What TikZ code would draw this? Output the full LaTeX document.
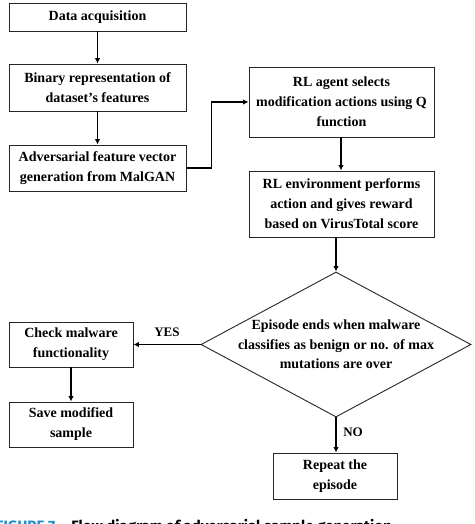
\documentclass[tikz,border=0pt]{standalone}
\usepackage{fontspec}
\setmainfont{Liberation Serif}
\newfontfamily\capfont{Fira Sans}
\usetikzlibrary{shapes.geometric,arrows.meta}
\definecolor{capblue}{RGB}{30,140,205}
\begin{document}
\begin{tikzpicture}[x=1pt,y=-1pt,
  box/.style={draw=black!85,line width=0.9pt,inner sep=0pt,align=center,
    font=\fontsize{14}{20}\selectfont\bfseries},
  conn/.style={line width=1.3pt,-{Latex[length=5.5pt,width=5.5pt]}},
  lbl/.style={font=\fontsize{13}{16}\selectfont\bfseries,inner sep=0pt}]
\useasboundingbox (0,0) rectangle (474,524);
\fill[white] (0,0) rectangle (474,524);
\node[box,minimum width=177pt,minimum height=28pt] (d1) at (97.5,17) {Data acquisition};
\node[box,minimum width=177pt,minimum height=47pt] (d2) at (97.5,87.5) {Binary representation of\\dataset’s features};
\node[box,minimum width=177pt,minimum height=46pt] (d3) at (97.5,168) {Adversarial feature vector\\generation from MalGAN};
\node[box,minimum width=185pt,minimum height=70pt] (r1) at (341.5,102) {RL agent selects\\modification actions using Q\\function};
\node[box,minimum width=185pt,minimum height=66pt] (r2) at (341.5,204) {RL environment performs\\action and gives reward\\based on VirusTotal score};
\node[diamond,draw=black!85,line width=0.9pt,inner sep=0pt,minimum width=270pt,minimum height=145pt,shape aspect=1.86] (dm) at (336,344.5) {};
\node[align=center,inner sep=0pt,font=\fontsize{14}{19.5}\selectfont\bfseries] (dmt) at (dm.center) {Episode ends when malware\\classifies as benign or no. of max\\mutations are over};
\node[box,minimum width=124pt,minimum height=45pt] (c1) at (71,344.5) {Check malware\\functionality};
\node[box,minimum width=124pt,minimum height=45pt] (c2) at (71,424.5) {Save modified\\sample};
\node[box,minimum width=124pt,minimum height=46pt] (c3) at (335,476) {Repeat the\\episode};
\node[lbl] (yes) at (167,332) {YES};
\node[lbl] (no) at (353,432) {NO};
\draw[conn] (d1) -- (d2);
\draw[conn] (d2) -- (d3);
\draw[conn] (d3.east) -- ++(25,0) |- (r1.west);
\draw[conn] (341,102 |- r1.south) -- (341,102 |- r2.north);
\draw[conn] (dm.north |- r2.south) -- (dm.north);
\draw[conn] (dm.west) -- (c1.east);
\draw[conn] (c1) -- (c2);
\draw[conn] (dm.south) -- (dm.south |- c3.north);
\node[anchor=base west,inner sep=0pt,font=\capfont\fontsize{15}{17}\selectfont\bfseries] (cap) at (-4,531) {\textcolor{capblue}{FIGURE 7.}\hspace{14pt}Flow diagram of adversarial sample generation};
\end{tikzpicture}
\end{document}
